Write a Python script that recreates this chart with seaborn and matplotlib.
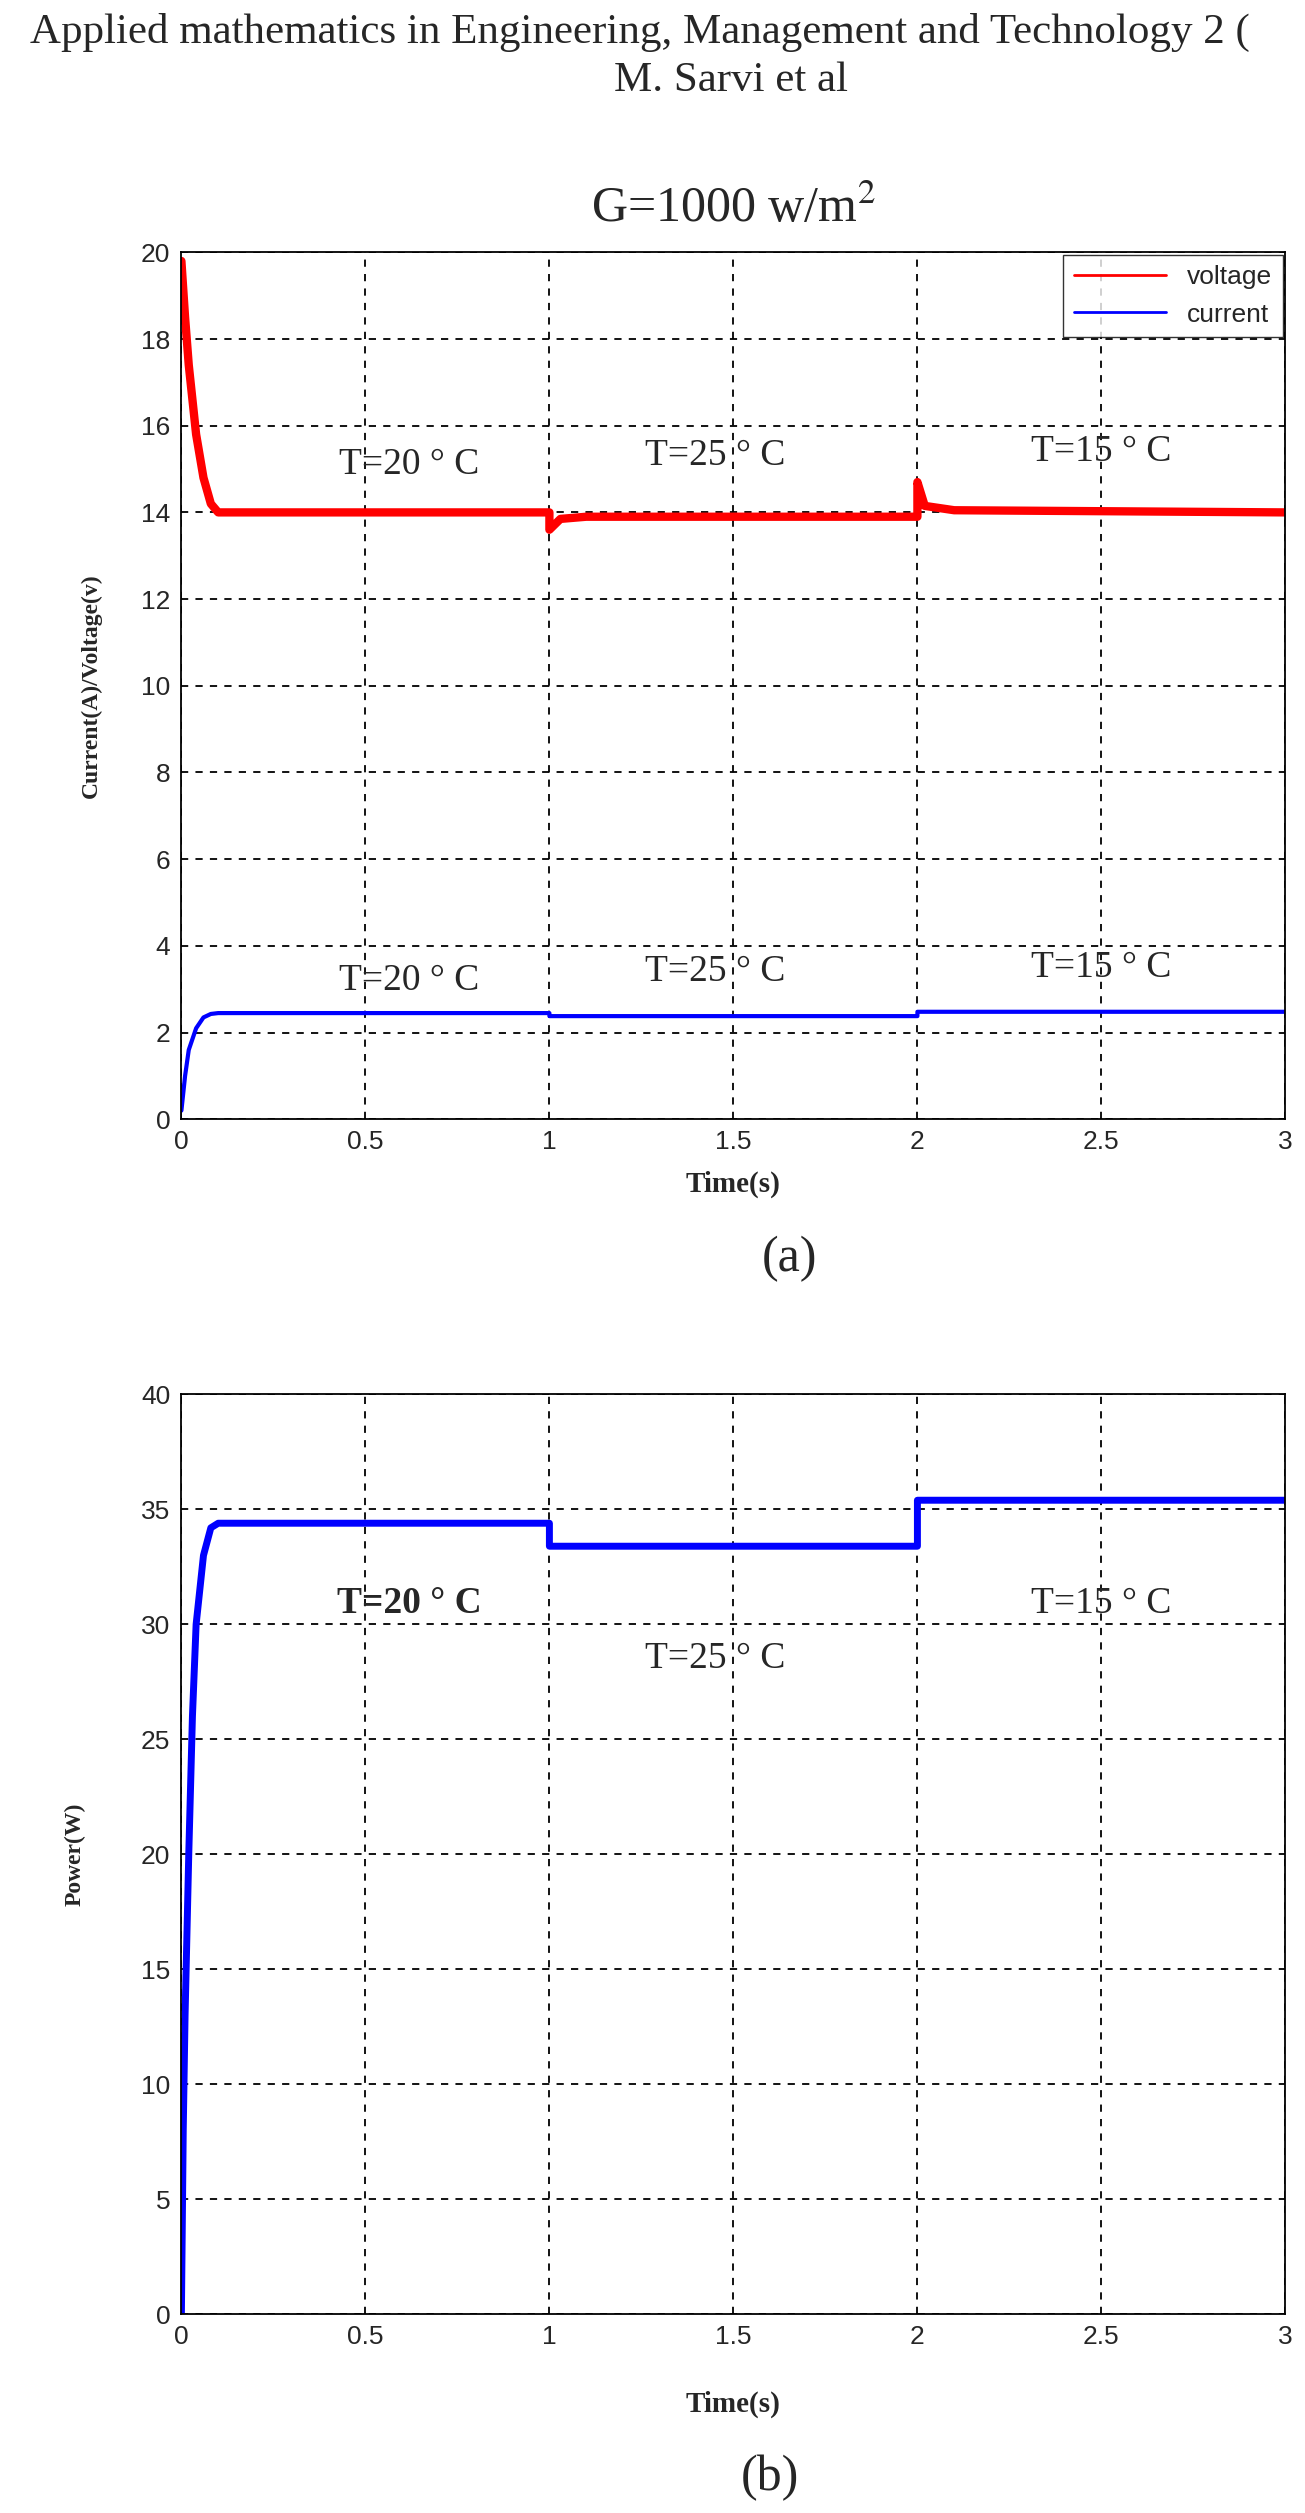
import matplotlib
matplotlib.use("Agg")
import matplotlib.pyplot as plt
import seaborn as sns

sns.set_style("white")
plt.rcParams['font.family'] = ['Liberation Sans', 'DejaVu Sans']
plt.rcParams['mathtext.fontset'] = 'stix'

# key points
volt_t = [0, 0.01, 0.02, 0.04, 0.06, 0.08, 0.1, 1.0, 1.0, 1.03, 1.1, 2.0, 2.0, 2.02, 2.1, 3.0]
volt_v = [19.8, 18.5, 17.4, 15.8, 14.8, 14.2, 14.0, 14.0, 13.6, 13.85, 13.9, 13.9, 14.7, 14.15, 14.05, 14.0]
curr_t = [0, 0.01, 0.02, 0.04, 0.06, 0.08, 0.1, 1.0, 1.0, 2.0, 2.0, 3.0]
curr_v = [0.2, 1.0, 1.6, 2.1, 2.35, 2.43, 2.45, 2.45, 2.38, 2.38, 2.48, 2.48]
pow_t = [0, 0.005, 0.01, 0.02, 0.03, 0.04, 0.06, 0.08, 0.1, 1.0, 1.0, 2.0, 2.0, 3.0]
pow_v = [0, 8, 13, 20, 26, 30, 33, 34.2, 34.4, 34.4, 33.4, 33.4, 35.4, 35.4]

labels = ["T=20 ° C", "T=25 ° C", "T=15 ° C"]
label_x = [0.62, 1.45, 2.5]
volt_label_y = [15.1, 15.3, 15.4]
curr_label_y = [3.2, 3.4, 3.5]
pow_label_y = [30.9, 28.5, 30.9]

fig = plt.figure(figsize=(13.05, 25.13), dpi=100)
serif = ['Liberation Serif', 'DejaVu Serif']

fig.text(0.49, 0.987, "Applied mathematics in Engineering, Management and Technology 2 (",
         ha="center", va="center", fontsize=31, family=serif)
fig.text(0.56, 0.968, "M. Sarvi et al", ha="center", va="center", fontsize=31, family=serif)

def style(ax, ymax, ystep):
    ax.set_xlim(0, 3)
    ax.set_ylim(0, ymax)
    ax.set_xticks([0, 0.5, 1, 1.5, 2, 2.5, 3])
    ax.set_xticklabels(["0", "0.5", "1", "1.5", "2", "2.5", "3"])
    ax.set_yticks(range(0, ymax + 1, ystep))
    ax.grid(True, color="black", linestyle=(0, (4, 4)), linewidth=1.3)
    ax.tick_params(labelsize=19, direction="in", length=6, pad=8)
    for s in ax.spines.values():
        s.set_color("black")
        s.set_linewidth(1.3)

kw = dict(sort=False, estimator=None, errorbar=None)

ax1 = fig.add_axes([0.139, 0.5546, 0.846, 0.345])
sns.lineplot(x=volt_t, y=volt_v, ax=ax1, color="red", linewidth=6, label="voltage", **kw)
sns.lineplot(x=curr_t, y=curr_v, ax=ax1, color="blue", linewidth=3, label="current", **kw)
style(ax1, 20, 2)
leg = ax1.legend(loc="upper right", fontsize=19, frameon=True, fancybox=False,
                 edgecolor="black", handlelength=3.5, borderaxespad=0.1)
for h in leg.get_lines():
    h.set_linewidth(2)
ax1.set_title("G=1000 w/m$^2$", fontsize=36, family=serif, pad=22)
ax1.set_xlabel("Time(s)", fontsize=21, family=serif, fontweight="bold", labelpad=12)
ax1.set_ylabel("Current(A)/Voltage(v)", fontsize=17, family=serif, fontweight="bold", labelpad=28)
for x, y1, y2, t in zip(label_x, volt_label_y, curr_label_y, labels):
    ax1.text(x, y1, t, fontsize=27, family=serif, ha="center", va="center")
    ax1.text(x, y2, t, fontsize=27, family=serif, ha="center", va="center")
fig.text(0.605, 0.499, "(a)", ha="center", va="center", fontsize=36, family=serif)

ax2 = fig.add_axes([0.139, 0.0791, 0.846, 0.366])
sns.lineplot(x=pow_t, y=pow_v, ax=ax2, color="blue", linewidth=5, **kw)
style(ax2, 40, 5)
ax2.set_xlabel("Time(s)", fontsize=21, family=serif, fontweight="bold", labelpad=30)
ax2.set_ylabel("Power(W)", fontsize=17, family=serif, fontweight="bold", labelpad=40)
for x, y, t, w in zip(label_x, pow_label_y, labels, ["bold", "normal", "normal"]):
    ax2.text(x, y, t, fontsize=27, family=serif, ha="center", va="center", fontweight=w)
fig.text(0.59, 0.014, "(b)", ha="center", va="center", fontsize=36, family=serif)

fig.savefig("out.png", dpi=100)
